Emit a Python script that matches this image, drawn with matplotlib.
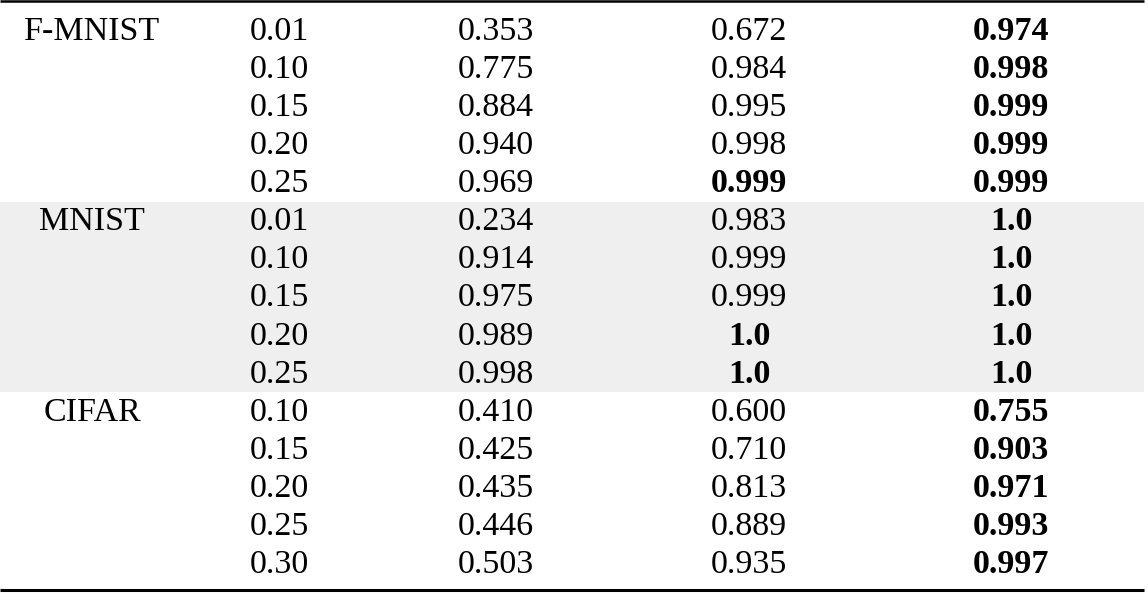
import matplotlib
matplotlib.use("Agg")
import matplotlib.pyplot as plt

datasets = ["F-MNIST", "MNIST", "CIFAR"]
rates = [
    ["0.01", "0.10", "0.15", "0.20", "0.25"],
    ["0.01", "0.10", "0.15", "0.20", "0.25"],
    ["0.10", "0.15", "0.20", "0.25", "0.30"],
]
col_a = [
    ["0.353", "0.775", "0.884", "0.940", "0.969"],
    ["0.234", "0.914", "0.975", "0.989", "0.998"],
    ["0.410", "0.425", "0.435", "0.446", "0.503"],
]
col_b = [
    ["0.672", "0.984", "0.995", "0.998", "0.999"],
    ["0.983", "0.999", "0.999", "1.0", "1.0"],
    ["0.600", "0.710", "0.813", "0.889", "0.935"],
]
col_c = [
    ["0.974", "0.998", "0.999", "0.999", "0.999"],
    ["1.0", "1.0", "1.0", "1.0", "1.0"],
    ["0.755", "0.903", "0.971", "0.993", "0.997"],
]
shaded_groups = [1]

W, H = 1148, 595
fig = plt.figure(figsize=(W / 100, H / 100), dpi=100)
ax = fig.add_axes([0, 0, 1, 1])
ax.set_xlim(0, W)
ax.set_ylim(H, 0)
ax.axis("off")

FONT = "Liberation Serif"
FS = 24.5
x_cols = [92, 279, 496, 749, 1011]
base0 = 40.0
step = 38.07
left, right = 0, 1144

for g, name in enumerate(datasets):
    n = len(rates[g])
    first = g * n
    if g in shaded_groups:
        top = base0 + first * step - 28.6
        bot = base0 + (first + n - 1) * step + 9.5
        ax.add_patch(plt.Rectangle((left, top), right - left, bot - top,
                                   facecolor="#efefef", edgecolor="none", zorder=0))
    for r in range(n):
        y = base0 + (first + r) * step
        if r == 0:
            ax.text(x_cols[0], y, name, ha="center", va="baseline",
                    family=FONT, fontsize=FS)
        ax.text(x_cols[1], y, rates[g][r], ha="center", va="baseline",
                family=FONT, fontsize=FS)
        vals = [col_a[g][r], col_b[g][r], col_c[g][r]]
        mx = max(float(v) for v in vals)
        for k, v in enumerate(vals):
            ax.text(x_cols[2 + k], y, v, ha="center", va="baseline",
                    family=FONT, fontsize=FS,
                    fontweight="bold" if float(v) == mx else "normal")

ax.plot([left, right], [1.2, 1.2], color="black", lw=1.8, solid_capstyle="butt")
ax.plot([left, right], [589.5, 589.5], color="black", lw=2.2, solid_capstyle="butt")

fig.savefig("out.png", dpi=100)
